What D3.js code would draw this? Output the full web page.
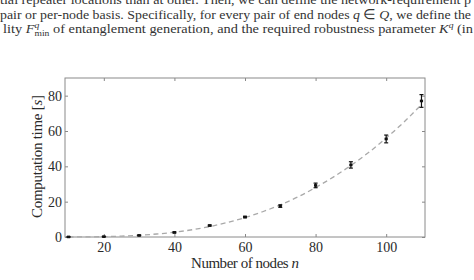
<!DOCTYPE html>
<html>
<head>
<meta charset="utf-8">
<script src="https://cdn.jsdelivr.net/npm/d3@7"></script>
<style>
    body { margin: 0; background: #fff; }
    svg { display: block; }
    .axis-text { font-family: "Liberation Serif", serif; fill: #2a2a2a; }
    .page-text { font-family: "Liberation Serif", serif; fill: #333; }
</style>
</head>
<body>
<div id="chart"></div>
<script>
const width = 474;
const height = 280;

const margin = { top: 78, right: 49, bottom: 43, left: 65 };

// measured computation time per network size
const nodes = [10, 20, 30, 40, 50, 60, 70, 80, 90, 100, 110];
const meanTime = [0.05, 0.2, 0.9, 2.6, 6.5, 11.3, 17.5, 29.2, 40.8, 55.5, 77.0];
const errTime = [0.1, 0.15, 0.2, 0.3, 0.3, 0.4, 0.7, 1.3, 1.8, 2.2, 3.6];

// dashed fit curve
const fitNodes = [10, 15, 20, 25, 30, 35, 40, 45, 50, 55, 60, 65, 70, 75, 80, 85, 90, 95, 100, 105, 110];
const fitTime = [0, 0.05, 0.2, 0.5, 1.0, 1.7, 2.7, 4.1, 5.9, 8.2, 11.0, 14.3, 18.2, 22.7, 28.0, 33.9, 40.5, 47.8, 56.0, 65.0, 75.0];

const xTicks = [20, 40, 60, 80, 100];
const yTicks = [0, 20, 40, 60, 80];

function drawPageText(svg) {
    // bits of the paper text above the figure
    let lines = [
        { x: 0, y: 4, len: 471, parts: [["tial repeater locations than at other.  Then, we can define the network-requirement p"]] },
        { x: 0, y: 18.5, len: 471, parts: [["pair or per-node basis.  Specifically, for every pair of end nodes "], ["q", "italic"], [" \u2208 "], ["Q", "italic"], [", we define the"]] },
        { x: 3, y: 32.5, len: 470, parts: [["lity "], ["F", "italic"], ["q", "sup"], ["min", "sub"], [" of entanglement generation, and the required robustness parameter "], ["K", "italic"], ["q", "sup"], [" (in"]] }
    ];

    lines.forEach(function (l) {
        let t = svg.append("text")
            .attr("class", "page-text")
            .attr("x", l.x)
            .attr("y", l.y)
            .attr("font-size", 13.5)
            .attr("textLength", l.len)
            .attr("lengthAdjust", "spacingAndGlyphs");
        let cur = 0; // current baseline offset
        l.parts.forEach(function (p) {
            let s = t.append("tspan").text(p[0]);
            if (p[1] == "italic") s.attr("font-style", "italic");
            if (p[1] == "sup") {
                s.attr("font-style", "italic").attr("font-size", 9).attr("dy", -5 - cur);
                cur = -5;
            } else if (p[1] == "sub") {
                s.attr("font-size", 9).attr("dx", -4.5).attr("dy", 3 - cur);
                cur = 3;
            } else if (cur != 0) {
                s.attr("dy", -cur);
                cur = 0;
            }
        });
    });
}

function drawChart(htmlID) {

    let svg = d3.select("#" + htmlID)
        .append("svg")
        .attr("width", width)
        .attr("height", height);

    svg.append("rect")
        .attr("width", width)
        .attr("height", height)
        .attr("fill", "#fff");

    drawPageText(svg);

    let x = d3.scaleLinear()
        .domain([9, 111])
        .range([margin.left, width - margin.right]);

    let y = d3.scaleLinear()
        .domain([0, 90])
        .range([height - margin.bottom, margin.top]);

    let x0 = x.range()[0], x1 = x.range()[1];
    let y0 = y.range()[0], y1 = y.range()[1];

    // bottom and left axes, ticks pointing in
    let bottom = svg.append("g")
        .attr("class", "axis")
        .attr("transform", "translate(0," + y0 + ")")
        .call(d3.axisBottom(x).tickValues(xTicks).tickSize(-3).tickPadding(5.5));

    let left = svg.append("g")
        .attr("class", "axis")
        .attr("transform", "translate(" + x0 + ",0)")
        .call(d3.axisLeft(y).tickValues(yTicks).tickSize(-3).tickPadding(3));

    // top and right axes, only ticks
    let top = svg.append("g")
        .attr("transform", "translate(0," + y1 + ")")
        .call(d3.axisTop(x).tickValues(xTicks).tickSize(-3).tickFormat(""));

    let right = svg.append("g")
        .attr("transform", "translate(" + x1 + ",0)")
        .call(d3.axisRight(y).tickValues(yTicks).tickSize(-3).tickFormat(""));

    [bottom, left, top, right].forEach(function (g) {
        g.select(".domain").remove();
        g.selectAll("line").attr("stroke", "#888");
        g.selectAll("text")
            .attr("class", "axis-text")
            .attr("font-size", 14);
    });

    // frame
    svg.append("rect")
        .attr("x", x0)
        .attr("y", y1)
        .attr("width", x1 - x0)
        .attr("height", y0 - y1)
        .attr("fill", "none")
        .attr("stroke", "#8a8a8a")
        .attr("stroke-width", 1);

    // fit curve
    let fit = fitNodes.map((n, i) => ({ n: n, t: fitTime[i] }));
    svg.append("path")
        .datum(fit)
        .attr("fill", "none")
        .attr("stroke", "#a9a9a9")
        .attr("stroke-width", 1.3)
        .attr("stroke-dasharray", "5,3.5")
        .attr("d", d3.line()
            .x(d => x(d.n))
            .y(d => y(d.t))
            .curve(d3.curveMonotoneX));

    // error bars and markers
    let pts = nodes.map((n, i) => ({ n: n, t: meanTime[i], e: errTime[i] }));
    let g = svg.append("g").attr("stroke", "#111").attr("stroke-width", 1.2);

    g.selectAll(".bar")
        .data(pts)
        .join("line")
        .attr("class", "bar")
        .attr("x1", d => x(d.n))
        .attr("x2", d => x(d.n))
        .attr("y1", d => y(d.t - d.e))
        .attr("y2", d => y(d.t + d.e));

    g.selectAll(".cap-top")
        .data(pts)
        .join("line")
        .attr("class", "cap-top")
        .attr("x1", d => x(d.n) - 2)
        .attr("x2", d => x(d.n) + 2)
        .attr("y1", d => y(d.t + d.e))
        .attr("y2", d => y(d.t + d.e));

    g.selectAll(".cap-bot")
        .data(pts)
        .join("line")
        .attr("class", "cap-bot")
        .attr("x1", d => x(d.n) - 2)
        .attr("x2", d => x(d.n) + 2)
        .attr("y1", d => y(d.t - d.e))
        .attr("y2", d => y(d.t - d.e));

    svg.selectAll(".marker")
        .data(pts)
        .join("rect")
        .attr("class", "marker")
        .attr("x", d => x(d.n) - 1.6)
        .attr("y", d => y(d.t) - 1.3)
        .attr("width", 3.2)
        .attr("height", 2.6)
        .attr("fill", "#111");

    // axis labels
    let xl = svg.append("text")
        .attr("class", "axis-text")
        .attr("x", (191 + 299) / 2)
        .attr("y", 267.5)
        .attr("text-anchor", "middle")
        .attr("font-size", 15)
        .attr("textLength", 108);
    xl.append("tspan").text("Number of nodes ");
    xl.append("tspan").attr("font-style", "italic").text("n");

    let yl = svg.append("text")
        .attr("class", "axis-text")
        .attr("transform", "translate(42," + 156.5 + ") rotate(-90)")
        .attr("text-anchor", "middle")
        .attr("font-size", 15)
        .attr("textLength", 123);
    yl.append("tspan").text("Computation time [");
    yl.append("tspan").attr("font-style", "italic").text("s");
    yl.append("tspan").text("]");
}

window.addEventListener('load', function () {
    drawChart("chart");
});
</script>
</body>
</html>
